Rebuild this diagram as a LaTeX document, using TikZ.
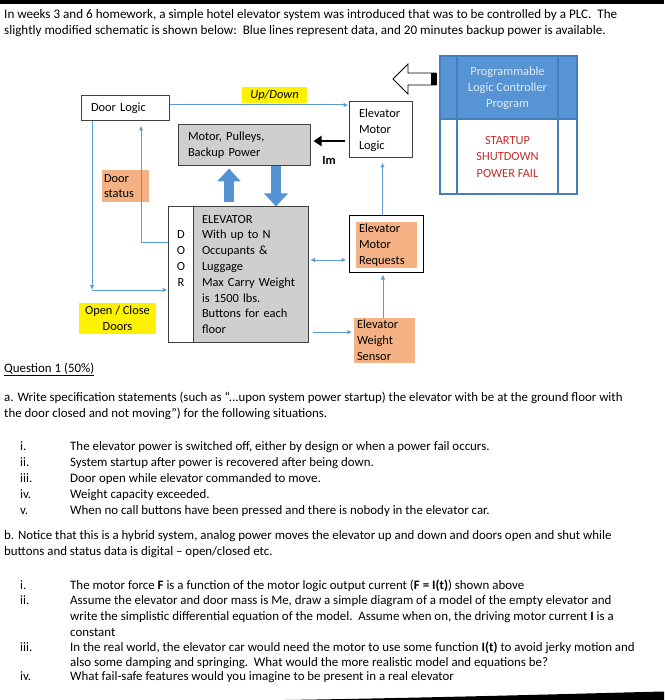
\documentclass[tikz,border=0pt]{standalone}
\usepackage{fontspec}
\setmainfont{Carlito}
\usetikzlibrary{arrows.meta,calc}
\definecolor{dblue}{RGB}{91,155,213}
\definecolor{bblue}{RGB}{84,148,210}
\definecolor{plcfill}{RGB}{86,148,212}
\definecolor{plcline}{RGB}{70,125,190}
\definecolor{grayfill}{RGB}{208,207,207}
\definecolor{salmon}{RGB}{244,177,131}
\definecolor{plcred}{RGB}{200,45,40}
\definecolor{plctext}{RGB}{225,235,247}
\tikzset{
  box/.style={draw=black!75, line width=1pt, inner sep=0pt, align=left},
  graybox/.style={box, fill=grayfill},
  salbox/.style={fill=salmon, inner sep=0pt, align=left},
  ylw/.style={fill=yellow, inner sep=0pt, align=center},
  dline/.style={draw=dblue, line width=1pt, -{Latex[length=5pt,width=4.5pt]}},
  dline2/.style={draw=dblue, line width=1pt, {Latex[length=5pt,width=4.5pt]}-{Latex[length=5pt,width=4.5pt]}},
  blk/.style={draw=bblue, line width=10pt, -{Triangle[length=13pt,width=23pt]}},
  txt/.style={anchor=base west, inner sep=0pt, font=\fontsize{12.9}{15.8}\selectfont},
  htxt/.style={anchor=base west, inner sep=0pt, font=\fontsize{13.1}{15.8}\selectfont},
}
\begin{document}
\begin{tikzpicture}[x=1pt,y=-1pt,font=\fontsize{12.4}{15.8}\selectfont]
\useasboundingbox (0,0) rectangle (664,700);
\fill[white] (0,0) rectangle (664,700);
\fill[black] (0,0) rectangle (664,4);
\fill[black] (285,700) .. controls (450,697.5) and (600,693) .. (664,691.5) -- (664,700) -- cycle;

% header
\node[htxt] (h1) at (4,19) {In weeks 3 and 6 homework, a simple hotel elevator system was introduced that was to be controlled by a PLC.\ \ The};
\node[htxt] (h2) at (4,35) {slightly modified schematic is shown below:\ \ Blue lines represent data, and 20 minutes backup power is available.};

% diagram boxes
\node[box, minimum width=88, minimum height=25, text width=68] (dl) at (125,108.5) {Door Logic};
\node[ylw, minimum width=65, minimum height=16] (ud) at (274.5,95) {\itshape Up/Down};
\node[box, minimum width=63, minimum height=56, text width=43] (eml) at (380.5,130) {Elevator\\Motor\\Logic};
\node[graybox, minimum width=132, minimum height=41, text width=112] (motor) at (244,145.5) {Motor, Pulleys,\\Backup Power};
\node[inner sep=0pt, font=\fontsize{12.4}{15}\selectfont\bfseries] (im) at (329,160) {Im};
\node[salbox, minimum width=47, minimum height=32, text width=43] (ds) at (125.5,186) {Door\\status};
\node[box, fill=white, minimum width=25, minimum height=135] (door) at (180.5,274.5) {};
\node[inner sep=0pt, align=center, font=\fontsize{12.4}{15.8}\selectfont] (doortxt) at (181,258.5) {D\\O\\O\\R};
\node[graybox, minimum width=115, minimum height=135, text width=97] (elev) at (250.5,274.5) {ELEVATOR\\With up to N\\Occupants \&\\Luggage\\Max~Carry~Weight\\is 1500 lbs.\\Buttons~for~each\\floor};
\node[box, draw=black, fill=white, minimum width=74, minimum height=56] (emr) at (386,244) {};
\node[salbox, minimum width=61, minimum height=46, text width=55] (emrt) at (386.5,245) {Elevator\\Motor\\Requests};
\node[salbox, minimum width=61, minimum height=45, text width=55] (ews) at (384.5,340.5) {Elevator\\Weight\\Sensor};
\node[ylw, minimum width=77, minimum height=31] (oc) at (117.5,318.5) {Open / Close\\Doors};

% PLC block
\fill[plcfill] (440,56) rectangle (577,119);
\draw[plcline, line width=1.5pt] (440,56) rectangle (577,194) (457,56) -- (457,194) (558,56) -- (558,194) (440,119) -- (577,119);
\node[inner sep=0pt, align=center, text=plctext] (plc) at (507.5,88) {Programmable\\Logic Controller\\Program};
\node[inner sep=0pt, align=center, text=plcred, font=\fontsize{12.4}{16.8}\selectfont] (plcs) at (507.5,157) {STARTUP\\SHUTDOWN\\POWER FAIL};
% hollow block arrow from PLC
\filldraw[fill=white, draw=black, line width=0.8pt] (436,73) -- (408,73) -- (408,64) -- (393,79) -- (408,94) -- (408,85) -- (436,85) -- cycle;
\fill[black] (431,73) rectangle (436.5,85);

% connectors
\coordinate (u1) at ([yshift=3.5pt]dl.east);
\coordinate (u2) at (u1 -| eml.west);
\draw[dline] (u1) -- (u2);

\coordinate (i1) at ([xshift=-4pt,yshift=-11pt]eml.west);
\coordinate (i2) at ([xshift=3pt]i1 -| motor.east);
\draw[black, line width=2.6pt, -{Triangle[length=8pt,width=10pt]}] (i1) -- (i2);

\coordinate (dd1) at ([xshift=-33pt]dl.south);
\coordinate (dd3) at ([yshift=-15.5pt]door.west);
\coordinate (dd2) at (dd1 |- dd3);
\draw[dline] (dd1) -- (dd2);
\draw[dline] (dd2) -- (dd3);

\coordinate (s1) at ([yshift=31.5pt]door.west);
\coordinate (s2) at ([xshift=16pt,yshift=-4pt]dl.south);
\draw[dline] (s1) -| (s2);

\coordinate (m1) at ([xshift=-3.5pt]emr.north);
\coordinate (m2) at (m1 |- eml.south);
\draw[dline] (m1) -- ([yshift=-4pt]m2);

\coordinate (w1) at ([xshift=-1.5pt]ews.north);
\coordinate (w2) at (w1 |- emr.south);
\draw[dline] (w1) -- ([yshift=-2pt]w2);

\coordinate (e1) at ([xshift=4pt,yshift=-57.5pt]elev.east);
\coordinate (e2) at (e1 -| ews.west);
\draw[dline] (e1) -- ([xshift=-1.5pt]e2);

\coordinate (b1) at ([xshift=1.5pt,yshift=14.5pt]elev.east);
\coordinate (b2) at (b1 -| emr.west);
\draw[dline2] (b1) -- ([xshift=-2pt]b2);

\draw[blk] ([xshift=-21.5pt,yshift=4pt]elev.north) -- ([xshift=-15pt,yshift=-2pt]motor.south);
\draw[blk] ([xshift=32pt]motor.south) -- ([xshift=25.5pt,yshift=0pt]elev.north);

% questions
\node[txt] (q) at (4,372) {\underline{Question 1 (50\%)}};
\node[txt] (qa1) at (4,401) {a. Write specification statements (such as “...upon system power startup) the elevator with be at the ground floor with};
\node[txt] (qa2) at (4,417) {the door closed and not moving”) for the following situations.};
\node[txt] (r1) at (20,450) {i.};
\node[txt] (t1) at (70,450) {The elevator power is switched off, either by design or when a power fail occurs.};
\node[txt] (r2) at (20,466) {ii.};
\node[txt] (t2) at (70,466) {System startup after power is recovered after being down.};
\node[txt] (r3) at (20,482) {iii.};
\node[txt] (t3) at (70,482) {Door open while elevator commanded to move.};
\node[txt] (r4) at (20,498) {iv.};
\node[txt] (t4) at (70,498) {Weight capacity exceeded.};
\node[txt] (r5) at (20,514) {v.};
\node[txt] (t5) at (70,514) {When no call buttons have been pressed and there is nobody in the elevator car.};

\node[txt] (qb1) at (4,539) {b. Notice that this is a hybrid system, analog power moves the elevator up and down and doors open and shut while};
\node[txt] (qb2) at (4,555) {buttons and status data is digital – open/closed etc.};
\node[txt] (br1) at (20,589) {i.};
\node[txt] (bt1) at (70,589) {The motor force \textbf{F} is a function of the motor logic output current (\textbf{F = I(t)}) shown above};
\node[txt] (br2) at (20,604) {ii.};
\node[txt] (bt2) at (70,604) {Assume the elevator and door mass is Me, draw a simple diagram of a model of the empty elevator and};
\node[txt] (bt2b) at (70,620) {write the simplistic differential equation of the model.\ \ Assume when on, the driving motor current \textbf{I} is a};
\node[txt] (bt2c) at (70,636) {constant};
\node[txt] (br3) at (20,651) {iii.};
\node[txt] (bt3) at (70,651) {In the real world, the elevator car would need the motor to use some function \textbf{I(t)} to avoid jerky motion and};
\node[txt] (bt3b) at (70,666) {also some damping and springing.\ \ What would the more realistic model and equations be?};
\node[txt] (br4) at (20,680) {iv.};
\node[txt] (bt4) at (70,680) {What fail-safe features would you imagine to be present in a real elevator};
\end{tikzpicture}
\end{document}
